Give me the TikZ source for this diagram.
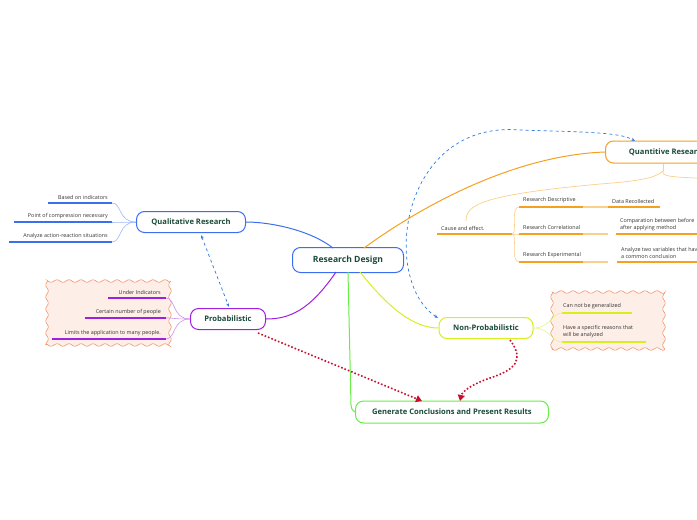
\documentclass[tikz,border=0pt]{standalone}
\usepackage{fontspec}
\setmainfont{Open Sans}
\usetikzlibrary{arrows.meta}
\definecolor{qblue}{HTML}{3B6FF0}
\definecolor{qpurp}{HTML}{A020E0}
\definecolor{qyel}{HTML}{D8EE20}
\definecolor{qgreen}{HTML}{66EE44}
\definecolor{qor}{HTML}{F5A020}
\definecolor{qlor}{HTML}{FBD08A}
\definecolor{ttxt}{HTML}{1A4A3A}
\definecolor{cloudfill}{HTML}{FDEEE8}
\definecolor{cloudline}{HTML}{F08A5C}
\definecolor{dred}{HTML}{C8102E}
\definecolor{dblue}{HTML}{2A7AE0}
\begin{document}
\begin{tikzpicture}[x=1pt,y=-1pt,
  topic/.style={draw=#1,line width=1pt,rounded corners=8pt,fill=white,font=\bfseries\fontsize{7.6}{9}\selectfont,text=ttxt,inner sep=0pt},
  leaf/.style={font=\fontsize{5.4}{7}\selectfont,text=black!80,inner sep=0pt,align=left},
  cloud/.style={draw=cloudline,fill=cloudfill,line width=0.5pt},
  redarr/.style={draw=dred,line width=1.6pt,dotted,-{Triangle[length=6pt,width=7pt]}},
  bluearr/.style={draw=dblue,line width=0.7pt,dashed,{Stealth[length=4pt]}-{Stealth[length=4pt]}}]
\useasboundingbox (0,0) rectangle (697,520);
% clouds
\draw[cloud] plot[domain=47:170,samples=80] (\x,{281+1.3*sin(mod(\x,12)*30)})
  -- plot[domain=281:345,samples=40] ({170+1.3*sin(mod(\x,12)*30)},\x)
  -- plot[domain=170:47,samples=80] (\x,{345+1.3*sin(mod(\x,12)*30)})
  -- plot[domain=345:281,samples=40] ({47+1.3*sin(mod(\x,12)*30)},\x) -- cycle;
\draw[cloud] plot[domain=552:664,samples=80] (\x,{292+1.3*sin(mod(\x,12)*30)})
  -- plot[domain=292:349,samples=40] ({664+1.3*sin(mod(\x,12)*30)},\x)
  -- plot[domain=664:552,samples=80] (\x,{349+1.3*sin(mod(\x,12)*30)})
  -- plot[domain=349:292,samples=40] ({552+1.3*sin(mod(\x,12)*30)},\x) -- cycle;
% main topics
\node[topic=qblue,minimum width=111pt,minimum height=25pt,font=\bfseries\fontsize{8.6}{10}\selectfont] (rd) at (348,260) {Research Design};
\node[topic=qblue,minimum width=109pt,minimum height=21pt] (ql) at (191,222) {Qualitative Research};
\node[topic=qpurp,minimum width=75pt,minimum height=21pt] (pb) at (228,319) {Probabilistic};
\node[topic=qyel,minimum width=94pt,minimum height=21pt] (np) at (486,328) {Non-Probabilistic};
\node[topic=qgreen,minimum width=193pt,minimum height=22pt] (gc) at (452,412) {Generate Conclusions and Present Results};
\node[topic=qor,minimum width=112pt,minimum height=22pt,anchor=west] (qn) at (605,152) {\hspace*{12pt}Quantitive Research\hfill};
% main connectors
\draw[qblue,line width=1pt] (333,248) coordinate (a1) .. controls (310,230) and (270,222) .. (ql.east);
\draw[qpurp,line width=1pt] (336,272) coordinate (a2) .. controls (310,310) and (290,319) .. (pb.east);
\draw[qyel,line width=1pt] (360,272) coordinate (a3) .. controls (390,310) and (415,328) .. (np.west);
\draw[qgreen,line width=1pt] (348,272) coordinate (a4) -- (351,405) .. controls (352,410) .. (gc.west);
\draw[qor,line width=1pt] (364,248) coordinate (a5) .. controls (430,200) and (520,155) .. (qn.west);
% qualitative leaves
\foreach \y/\xs/\t in {203/48/Based on indicators,222/14/Point of compression necessary,242/9/Analyze action-reaction situations}{
  \draw[qblue,line width=1.2pt] (\xs,\y) -- (112,\y);
  \node[leaf,anchor=south east] at (108,\y-3) {\t};
  \draw[qblue!50,line width=0.6pt] (112,\y) .. controls (122,\y) and (118,222) .. (ql.west);
}
% probabilistic leaves
\foreach \y/\xs/\t in {298/108/Under Indicators,318/85/Certain number of people,339/52/Limits the application to many people.}{
  \draw[qpurp,line width=1.2pt] (\xs,\y) -- (166,\y);
  \node[leaf,anchor=south east] at (161,\y-3) {\t};
  \draw[qpurp!50,line width=0.6pt] (166,\y) .. controls (176,\y) and (172,319) .. (pb.west);
}
% non-probabilistic leaves
\draw[qyel,line width=1.2pt] (562,313) -- (632,313);
\node[leaf,anchor=south west] at (563,309) {Can not be generalized};
\draw[qyel,line width=1.2pt] (562,342) -- (646,342);
\node[leaf,anchor=south west] at (563,338) {Have a specific reasons that\\ will be analyzed};
\draw[qyel!60,line width=0.6pt] (np.east) .. controls (550,328) and (552,313) .. (562,313);
\draw[qyel!60,line width=0.6pt] (np.east) .. controls (550,328) and (552,342) .. (562,342);
% quantitive subtree
\draw[qlor,line width=0.7pt] (qn.south) ++(2,0) coordinate (qb) -- ++(0,7) coordinate (qc) .. controls (656,178) and (640,181) .. (600,184) .. controls (480,195) and (466,205) .. (466,221);
\draw[qlor,line width=0.7pt] (qc) .. controls (660,176) and (670,177) .. (697,178);
\draw[qor,line width=1.2pt] (437,234) -- (512,234);
\node[leaf,anchor=south west] (ce) at (441,231) {Cause and effect.};
\foreach \y/\t in {207/Research Descriptive,234/Research Correlational,262/Research Experimental}{
  \draw[qor,line width=1.2pt] (519,\y) -- (583,\y);
  \draw[qlor,line width=1.2pt] (583,\y) -- (608,\y);
  \node[leaf,anchor=south west] at (523,\y-4) {\t};
  \draw[qlor,line width=0.6pt] (512,234) .. controls (518,234) and (510,\y) .. (519,\y);
}
\draw[qor,line width=1.2pt] (608,207) -- (660,207);
\node[leaf,anchor=south west] at (612,204) {Data Recollected};
\draw[qor,line width=1.2pt] (616,234) -- (697,234);
\node[leaf,anchor=south west] at (620,231) {Comparation between before\\ after applying method};
\draw[qor,line width=1.2pt] (617,262) -- (697,262);
\node[leaf,anchor=south west] at (621,259) {Analyze two variables that have\\ a common conclusion};
% relationships
\draw[bluearr] (201,235) -- (229,307);
\draw[bluearr] (438,318) .. controls (380,280) and (400,120) .. (520,130) .. controls (580,132) and (620,132) .. (635,141);
\draw[redarr] (258,333) -- (422,401);
\draw[redarr] (510,340) .. controls (525,360) and (515,370) .. (490,378) .. controls (470,385) and (462,392) .. (460,401);
\end{tikzpicture}
\end{document}
